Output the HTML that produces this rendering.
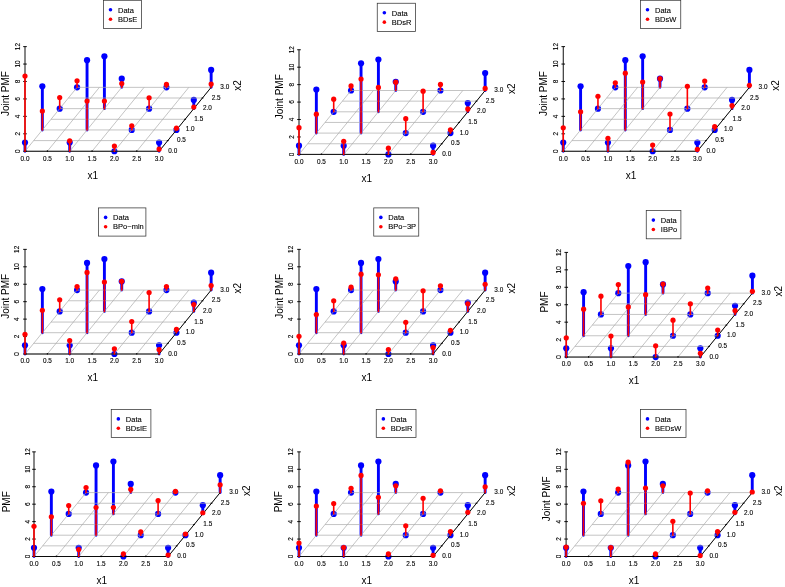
<!DOCTYPE html><html><head><meta charset="utf-8"><title>Joint PMF plots</title><style>html,body{margin:0;padding:0;background:#fff}svg{display:block}text{font-family:"Liberation Sans",sans-serif;fill:#000}.t{font-size:6.4px;stroke:#000;stroke-width:.12px}.l{font-size:10px}.g{font-size:7.5px;stroke:#000;stroke-width:.1px}</style></head><body>
<svg width="785" height="587" viewBox="0 0 785 587">
<rect width="785" height="587" fill="#fff"/>
<g>
<path d="M121.75 87.35L121.75 78.63M211.15 87.35L211.15 69.91M104.4 108.65L104.4 56.33M193.8 108.65L193.8 99.93M42.35 129.95L42.35 86.35M87.05 129.95L87.05 60.19M25 151.25L25 142.53M69.7 151.25L69.7 142.53M159.1 151.25L159.1 142.53" stroke="#00f" stroke-width="2.9" stroke-linecap="round" fill="none"/>
<g fill="#00f"><circle cx="77.05" cy="87.35" r="3.1"/><circle cx="121.75" cy="78.63" r="3.1"/><circle cx="166.45" cy="87.35" r="3.1"/><circle cx="211.15" cy="69.91" r="3.1"/><circle cx="59.7" cy="108.65" r="3.1"/><circle cx="104.4" cy="56.33" r="3.1"/><circle cx="149.1" cy="108.65" r="3.1"/><circle cx="193.8" cy="99.93" r="3.1"/><circle cx="42.35" cy="86.35" r="3.1"/><circle cx="87.05" cy="60.19" r="3.1"/><circle cx="131.75" cy="129.95" r="3.1"/><circle cx="176.45" cy="129.95" r="3.1"/><circle cx="25" cy="142.53" r="3.1"/><circle cx="69.7" cy="142.53" r="3.1"/><circle cx="114.4" cy="151.25" r="3.1"/><circle cx="159.1" cy="142.53" r="3.1"/></g>
<path d="M25 151.25L77.05 87.35M25 151.25L159.1 151.25M47.35 151.25L99.4 87.35M33.67 140.6L167.78 140.6M69.7 151.25L121.75 87.35M42.35 129.95L176.45 129.95M92.05 151.25L144.1 87.35M51.03 119.3L185.13 119.3M114.4 151.25L166.45 87.35M59.7 108.65L193.8 108.65M136.75 151.25L188.8 87.35M68.38 98L202.48 98M159.1 151.25L211.15 87.35M77.05 87.35L211.15 87.35" stroke="#aaaaaa" stroke-width="0.7" fill="none"/>
<path d="M25 46.61L25 151.25L159.1 151.25L211.15 87.35M25 150.25L25 151.85M158.2 151.25L160 151.25M23.2 151.25L26.8 151.25M47.35 150.25L47.35 151.85M166.88 140.6L168.68 140.6M23.2 133.81L26.8 133.81M69.7 150.25L69.7 151.85M175.55 129.95L177.35 129.95M23.2 116.37L26.8 116.37M92.05 150.25L92.05 151.85M184.23 119.3L186.03 119.3M23.2 98.93L26.8 98.93M114.4 150.25L114.4 151.85M192.9 108.65L194.7 108.65M23.2 81.49L26.8 81.49M136.75 150.25L136.75 151.85M201.58 98L203.38 98M23.2 64.05L26.8 64.05M159.1 150.25L159.1 151.85M210.25 87.35L212.05 87.35M23.2 46.61L26.8 46.61" stroke="#000" stroke-width="0.95" fill="none"/>
<path d="M77.05 87.35L77.05 80.81M121.75 87.35L121.75 83.51M166.45 87.35L166.45 84.47M211.15 87.35L211.15 84.04M59.7 108.65L59.7 97.58M104.4 108.65L104.4 101.06M149.1 108.65L149.1 97.75M193.8 108.65L193.8 106.99M42.35 129.95L42.35 111.03M87.05 129.95L87.05 101.09M131.75 129.95L131.75 125.76M176.45 129.95L176.45 128.21M25 151.25L25 76M69.7 151.25L69.7 140.79M114.4 151.25L114.4 146.02M159.1 151.25L159.1 148.98" stroke="#f00" stroke-width="1.6" stroke-linecap="round" fill="none"/>
<g fill="#f00"><circle cx="77.05" cy="80.81" r="2.6"/><circle cx="121.75" cy="83.51" r="2.6"/><circle cx="166.45" cy="84.47" r="2.6"/><circle cx="211.15" cy="84.04" r="2.6"/><circle cx="59.7" cy="97.58" r="2.6"/><circle cx="104.4" cy="101.06" r="2.6"/><circle cx="149.1" cy="97.75" r="2.6"/><circle cx="193.8" cy="106.99" r="2.6"/><circle cx="42.35" cy="111.03" r="2.6"/><circle cx="87.05" cy="101.09" r="2.6"/><circle cx="131.75" cy="125.76" r="2.6"/><circle cx="176.45" cy="128.21" r="2.6"/><circle cx="25" cy="76" r="2.6"/><circle cx="69.7" cy="140.79" r="2.6"/><circle cx="114.4" cy="146.02" r="2.6"/><circle cx="159.1" cy="148.98" r="2.6"/></g>
<text class="t" x="25" y="160.6" text-anchor="middle">0.0</text>
<text class="t" x="168.3" y="152.75">0.0</text>
<text class="t" transform="translate(20 151.25) rotate(-90)" text-anchor="middle">0</text>
<text class="t" x="47.35" y="160.6" text-anchor="middle">0.5</text>
<text class="t" x="176.98" y="142.1">0.5</text>
<text class="t" transform="translate(20 133.81) rotate(-90)" text-anchor="middle">2</text>
<text class="t" x="69.7" y="160.6" text-anchor="middle">1.0</text>
<text class="t" x="185.65" y="131.45">1.0</text>
<text class="t" transform="translate(20 116.37) rotate(-90)" text-anchor="middle">4</text>
<text class="t" x="92.05" y="160.6" text-anchor="middle">1.5</text>
<text class="t" x="194.33" y="120.8">1.5</text>
<text class="t" transform="translate(20 98.93) rotate(-90)" text-anchor="middle">6</text>
<text class="t" x="114.4" y="160.6" text-anchor="middle">2.0</text>
<text class="t" x="203" y="110.15">2.0</text>
<text class="t" transform="translate(20 81.49) rotate(-90)" text-anchor="middle">8</text>
<text class="t" x="136.75" y="160.6" text-anchor="middle">2.5</text>
<text class="t" x="211.68" y="99.5">2.5</text>
<text class="t" transform="translate(20 64.05) rotate(-90)" text-anchor="middle">10</text>
<text class="t" x="159.1" y="160.6" text-anchor="middle">3.0</text>
<text class="t" x="220.35" y="88.85">3.0</text>
<text class="t" transform="translate(20 46.61) rotate(-90)" text-anchor="middle">12</text>
<text class="l" x="92.9" y="178.55" text-anchor="middle">x1</text>
<text class="l" transform="translate(241.1 85.45) rotate(-90)" text-anchor="middle">x2</text>
<text class="l" transform="translate(9.2 93.6) rotate(-90)" text-anchor="middle">Joint PMF</text>
<rect x="103.4" y="0.3" width="38.1" height="28.2" fill="#fff" stroke="#333" stroke-width="0.75"/>
<circle cx="110.5" cy="9.8" r="1.8" fill="#00f"/><circle cx="110.5" cy="19.2" r="1.8" fill="#f00"/>
<text class="g" x="118" y="12.9">Data</text><text class="g" x="118" y="22.1">BDsE</text>
</g>
<g>
<path d="M395.75 90.5L395.75 81.78M485.15 90.5L485.15 73.06M378.4 111.8L378.4 59.48M467.8 111.8L467.8 103.08M316.35 133.1L316.35 89.5M361.05 133.1L361.05 63.34M299 154.4L299 145.68M343.7 154.4L343.7 145.68M433.1 154.4L433.1 145.68" stroke="#00f" stroke-width="2.9" stroke-linecap="round" fill="none"/>
<g fill="#00f"><circle cx="351.05" cy="90.5" r="3.1"/><circle cx="395.75" cy="81.78" r="3.1"/><circle cx="440.45" cy="90.5" r="3.1"/><circle cx="485.15" cy="73.06" r="3.1"/><circle cx="333.7" cy="111.8" r="3.1"/><circle cx="378.4" cy="59.48" r="3.1"/><circle cx="423.1" cy="111.8" r="3.1"/><circle cx="467.8" cy="103.08" r="3.1"/><circle cx="316.35" cy="89.5" r="3.1"/><circle cx="361.05" cy="63.34" r="3.1"/><circle cx="405.75" cy="133.1" r="3.1"/><circle cx="450.45" cy="133.1" r="3.1"/><circle cx="299" cy="145.68" r="3.1"/><circle cx="343.7" cy="145.68" r="3.1"/><circle cx="388.4" cy="154.4" r="3.1"/><circle cx="433.1" cy="145.68" r="3.1"/></g>
<path d="M299 154.4L351.05 90.5M299 154.4L433.1 154.4M321.35 154.4L373.4 90.5M307.68 143.75L441.78 143.75M343.7 154.4L395.75 90.5M316.35 133.1L450.45 133.1M366.05 154.4L418.1 90.5M325.02 122.45L459.12 122.45M388.4 154.4L440.45 90.5M333.7 111.8L467.8 111.8M410.75 154.4L462.8 90.5M342.38 101.15L476.48 101.15M433.1 154.4L485.15 90.5M351.05 90.5L485.15 90.5" stroke="#aaaaaa" stroke-width="0.7" fill="none"/>
<path d="M299 49.76L299 154.4L433.1 154.4L485.15 90.5M299 153.4L299 155M432.2 154.4L434 154.4M297.2 154.4L300.8 154.4M321.35 153.4L321.35 155M440.88 143.75L442.68 143.75M297.2 136.96L300.8 136.96M343.7 153.4L343.7 155M449.55 133.1L451.35 133.1M297.2 119.52L300.8 119.52M366.05 153.4L366.05 155M458.23 122.45L460.02 122.45M297.2 102.08L300.8 102.08M388.4 153.4L388.4 155M466.9 111.8L468.7 111.8M297.2 84.64L300.8 84.64M410.75 153.4L410.75 155M475.58 101.15L477.38 101.15M297.2 67.2L300.8 67.2M433.1 153.4L433.1 155M484.25 90.5L486.05 90.5M297.2 49.76L300.8 49.76" stroke="#000" stroke-width="0.95" fill="none"/>
<path d="M351.05 90.5L351.05 85.88M395.75 90.5L395.75 82.22M440.45 90.5L440.45 84.4M485.15 90.5L485.15 88.41M333.7 111.8L333.7 99.16M378.4 111.8L378.4 87.47M423.1 111.8L423.1 91.22M467.8 111.8L467.8 108.92M316.35 133.1L316.35 114.18M361.05 133.1L361.05 79.12M405.75 133.1L405.75 118.71M450.45 133.1L450.45 129.87M299 154.4L299 127.72M343.7 154.4L343.7 141.23M388.4 154.4L388.4 148.21M433.1 154.4L433.1 152.39" stroke="#f00" stroke-width="1.6" stroke-linecap="round" fill="none"/>
<g fill="#f00"><circle cx="351.05" cy="85.88" r="2.6"/><circle cx="395.75" cy="82.22" r="2.6"/><circle cx="440.45" cy="84.4" r="2.6"/><circle cx="485.15" cy="88.41" r="2.6"/><circle cx="333.7" cy="99.16" r="2.6"/><circle cx="378.4" cy="87.47" r="2.6"/><circle cx="423.1" cy="91.22" r="2.6"/><circle cx="467.8" cy="108.92" r="2.6"/><circle cx="316.35" cy="114.18" r="2.6"/><circle cx="361.05" cy="79.12" r="2.6"/><circle cx="405.75" cy="118.71" r="2.6"/><circle cx="450.45" cy="129.87" r="2.6"/><circle cx="299" cy="127.72" r="2.6"/><circle cx="343.7" cy="141.23" r="2.6"/><circle cx="388.4" cy="148.21" r="2.6"/><circle cx="433.1" cy="152.39" r="2.6"/></g>
<text class="t" x="299" y="163.75" text-anchor="middle">0.0</text>
<text class="t" x="442.3" y="155.9">0.0</text>
<text class="t" transform="translate(294.3 154.4) rotate(-90)" text-anchor="middle">0</text>
<text class="t" x="321.35" y="163.75" text-anchor="middle">0.5</text>
<text class="t" x="450.98" y="145.25">0.5</text>
<text class="t" transform="translate(294.3 136.96) rotate(-90)" text-anchor="middle">2</text>
<text class="t" x="343.7" y="163.75" text-anchor="middle">1.0</text>
<text class="t" x="459.65" y="134.6">1.0</text>
<text class="t" transform="translate(294.3 119.52) rotate(-90)" text-anchor="middle">4</text>
<text class="t" x="366.05" y="163.75" text-anchor="middle">1.5</text>
<text class="t" x="468.32" y="123.95">1.5</text>
<text class="t" transform="translate(294.3 102.08) rotate(-90)" text-anchor="middle">6</text>
<text class="t" x="388.4" y="163.75" text-anchor="middle">2.0</text>
<text class="t" x="477" y="113.3">2.0</text>
<text class="t" transform="translate(294.3 84.64) rotate(-90)" text-anchor="middle">8</text>
<text class="t" x="410.75" y="163.75" text-anchor="middle">2.5</text>
<text class="t" x="485.68" y="102.65">2.5</text>
<text class="t" transform="translate(294.3 67.2) rotate(-90)" text-anchor="middle">10</text>
<text class="t" x="433.1" y="163.75" text-anchor="middle">3.0</text>
<text class="t" x="494.35" y="92">3.0</text>
<text class="t" transform="translate(294.3 49.76) rotate(-90)" text-anchor="middle">12</text>
<text class="l" x="366.9" y="181.7" text-anchor="middle">x1</text>
<text class="l" transform="translate(515.1 88.6) rotate(-90)" text-anchor="middle">x2</text>
<text class="l" transform="translate(282.5 96.75) rotate(-90)" text-anchor="middle">Joint PMF</text>
<rect x="377.25" y="3.25" width="38.25" height="28.2" fill="#fff" stroke="#333" stroke-width="0.75"/>
<circle cx="384.35" cy="12.75" r="1.8" fill="#00f"/><circle cx="384.35" cy="22.15" r="1.8" fill="#f00"/>
<text class="g" x="391.85" y="15.85">Data</text><text class="g" x="391.85" y="25.05">BDsR</text>
</g>
<g>
<path d="M660 87.35L660 78.63M749.4 87.35L749.4 69.91M642.65 108.65L642.65 56.33M732.05 108.65L732.05 99.93M580.6 129.95L580.6 86.35M625.3 129.95L625.3 60.19M563.25 151.25L563.25 142.53M607.95 151.25L607.95 142.53M697.35 151.25L697.35 142.53" stroke="#00f" stroke-width="2.9" stroke-linecap="round" fill="none"/>
<g fill="#00f"><circle cx="615.3" cy="87.35" r="3.1"/><circle cx="660" cy="78.63" r="3.1"/><circle cx="704.7" cy="87.35" r="3.1"/><circle cx="749.4" cy="69.91" r="3.1"/><circle cx="597.95" cy="108.65" r="3.1"/><circle cx="642.65" cy="56.33" r="3.1"/><circle cx="687.35" cy="108.65" r="3.1"/><circle cx="732.05" cy="99.93" r="3.1"/><circle cx="580.6" cy="86.35" r="3.1"/><circle cx="625.3" cy="60.19" r="3.1"/><circle cx="670" cy="129.95" r="3.1"/><circle cx="714.7" cy="129.95" r="3.1"/><circle cx="563.25" cy="142.53" r="3.1"/><circle cx="607.95" cy="142.53" r="3.1"/><circle cx="652.65" cy="151.25" r="3.1"/><circle cx="697.35" cy="142.53" r="3.1"/></g>
<path d="M563.25 151.25L615.3 87.35M563.25 151.25L697.35 151.25M585.6 151.25L637.65 87.35M571.92 140.6L706.02 140.6M607.95 151.25L660 87.35M580.6 129.95L714.7 129.95M630.3 151.25L682.35 87.35M589.27 119.3L723.38 119.3M652.65 151.25L704.7 87.35M597.95 108.65L732.05 108.65M675 151.25L727.05 87.35M606.62 98L740.73 98M697.35 151.25L749.4 87.35M615.3 87.35L749.4 87.35" stroke="#aaaaaa" stroke-width="0.7" fill="none"/>
<path d="M563.25 46.61L563.25 151.25L697.35 151.25L749.4 87.35M563.25 150.25L563.25 151.85M696.45 151.25L698.25 151.25M561.45 151.25L565.05 151.25M585.6 150.25L585.6 151.85M705.12 140.6L706.92 140.6M561.45 133.81L565.05 133.81M607.95 150.25L607.95 151.85M713.8 129.95L715.6 129.95M561.45 116.37L565.05 116.37M630.3 150.25L630.3 151.85M722.48 119.3L724.27 119.3M561.45 98.93L565.05 98.93M652.65 150.25L652.65 151.85M731.15 108.65L732.95 108.65M561.45 81.49L565.05 81.49M675 150.25L675 151.85M739.83 98L741.62 98M561.45 64.05L565.05 64.05M697.35 150.25L697.35 151.85M748.5 87.35L750.3 87.35M561.45 46.61L565.05 46.61" stroke="#000" stroke-width="0.95" fill="none"/>
<path d="M615.3 87.35L615.3 82.73M660 87.35L660 78.54M704.7 87.35L704.7 80.98M749.4 87.35L749.4 85.26M597.95 108.65L597.95 96.27M642.65 108.65L642.65 82.05M687.35 108.65L687.35 86.33M732.05 108.65L732.05 105.51M580.6 129.95L580.6 111.81M625.3 129.95L625.3 73.18M670 129.95L670 114.08M714.7 129.95L714.7 126.72M563.25 151.25L563.25 127.79M607.95 151.25L607.95 138.26M652.65 151.25L652.65 145.06M697.35 151.25L697.35 149.24" stroke="#f00" stroke-width="1.6" stroke-linecap="round" fill="none"/>
<g fill="#f00"><circle cx="615.3" cy="82.73" r="2.6"/><circle cx="660" cy="78.54" r="2.6"/><circle cx="704.7" cy="80.98" r="2.6"/><circle cx="749.4" cy="85.26" r="2.6"/><circle cx="597.95" cy="96.27" r="2.6"/><circle cx="642.65" cy="82.05" r="2.6"/><circle cx="687.35" cy="86.33" r="2.6"/><circle cx="732.05" cy="105.51" r="2.6"/><circle cx="580.6" cy="111.81" r="2.6"/><circle cx="625.3" cy="73.18" r="2.6"/><circle cx="670" cy="114.08" r="2.6"/><circle cx="714.7" cy="126.72" r="2.6"/><circle cx="563.25" cy="127.79" r="2.6"/><circle cx="607.95" cy="138.26" r="2.6"/><circle cx="652.65" cy="145.06" r="2.6"/><circle cx="697.35" cy="149.24" r="2.6"/></g>
<text class="t" x="563.25" y="160.6" text-anchor="middle">0.0</text>
<text class="t" x="706.55" y="152.75">0.0</text>
<text class="t" transform="translate(557.65 151.25) rotate(-90)" text-anchor="middle">0</text>
<text class="t" x="585.6" y="160.6" text-anchor="middle">0.5</text>
<text class="t" x="715.23" y="142.1">0.5</text>
<text class="t" transform="translate(557.65 133.81) rotate(-90)" text-anchor="middle">2</text>
<text class="t" x="607.95" y="160.6" text-anchor="middle">1.0</text>
<text class="t" x="723.9" y="131.45">1.0</text>
<text class="t" transform="translate(557.65 116.37) rotate(-90)" text-anchor="middle">4</text>
<text class="t" x="630.3" y="160.6" text-anchor="middle">1.5</text>
<text class="t" x="732.58" y="120.8">1.5</text>
<text class="t" transform="translate(557.65 98.93) rotate(-90)" text-anchor="middle">6</text>
<text class="t" x="652.65" y="160.6" text-anchor="middle">2.0</text>
<text class="t" x="741.25" y="110.15">2.0</text>
<text class="t" transform="translate(557.65 81.49) rotate(-90)" text-anchor="middle">8</text>
<text class="t" x="675" y="160.6" text-anchor="middle">2.5</text>
<text class="t" x="749.93" y="99.5">2.5</text>
<text class="t" transform="translate(557.65 64.05) rotate(-90)" text-anchor="middle">10</text>
<text class="t" x="697.35" y="160.6" text-anchor="middle">3.0</text>
<text class="t" x="758.6" y="88.85">3.0</text>
<text class="t" transform="translate(557.65 46.61) rotate(-90)" text-anchor="middle">12</text>
<text class="l" x="631.15" y="178.55" text-anchor="middle">x1</text>
<text class="l" transform="translate(779.35 85.45) rotate(-90)" text-anchor="middle">x2</text>
<text class="l" transform="translate(547.45 93.6) rotate(-90)" text-anchor="middle">Joint PMF</text>
<rect x="640.4" y="0.3" width="40.35" height="28.2" fill="#fff" stroke="#333" stroke-width="0.75"/>
<circle cx="647.5" cy="9.8" r="1.8" fill="#00f"/><circle cx="647.5" cy="19.2" r="1.8" fill="#f00"/>
<text class="g" x="655" y="12.9">Data</text><text class="g" x="655" y="22.1">BDsW</text>
</g>
<g>
<path d="M121.75 290.1L121.75 281.38M211.15 290.1L211.15 272.66M104.4 311.4L104.4 259.08M193.8 311.4L193.8 302.68M42.35 332.7L42.35 289.1M87.05 332.7L87.05 262.94M25 354L25 345.28M69.7 354L69.7 345.28M159.1 354L159.1 345.28" stroke="#00f" stroke-width="2.9" stroke-linecap="round" fill="none"/>
<g fill="#00f"><circle cx="77.05" cy="290.1" r="3.1"/><circle cx="121.75" cy="281.38" r="3.1"/><circle cx="166.45" cy="290.1" r="3.1"/><circle cx="211.15" cy="272.66" r="3.1"/><circle cx="59.7" cy="311.4" r="3.1"/><circle cx="104.4" cy="259.08" r="3.1"/><circle cx="149.1" cy="311.4" r="3.1"/><circle cx="193.8" cy="302.68" r="3.1"/><circle cx="42.35" cy="289.1" r="3.1"/><circle cx="87.05" cy="262.94" r="3.1"/><circle cx="131.75" cy="332.7" r="3.1"/><circle cx="176.45" cy="332.7" r="3.1"/><circle cx="25" cy="345.28" r="3.1"/><circle cx="69.7" cy="345.28" r="3.1"/><circle cx="114.4" cy="354" r="3.1"/><circle cx="159.1" cy="345.28" r="3.1"/></g>
<path d="M25 354L77.05 290.1M25 354L159.1 354M47.35 354L99.4 290.1M33.67 343.35L167.78 343.35M69.7 354L121.75 290.1M42.35 332.7L176.45 332.7M92.05 354L144.1 290.1M51.03 322.05L185.13 322.05M114.4 354L166.45 290.1M59.7 311.4L193.8 311.4M136.75 354L188.8 290.1M68.38 300.75L202.48 300.75M159.1 354L211.15 290.1M77.05 290.1L211.15 290.1" stroke="#aaaaaa" stroke-width="0.7" fill="none"/>
<path d="M25 249.36L25 354L159.1 354L211.15 290.1M25 353L25 354.6M158.2 354L160 354M23.2 354L26.8 354M47.35 353L47.35 354.6M166.88 343.35L168.68 343.35M23.2 336.56L26.8 336.56M69.7 353L69.7 354.6M175.55 332.7L177.35 332.7M23.2 319.12L26.8 319.12M92.05 353L92.05 354.6M184.23 322.05L186.03 322.05M23.2 301.68L26.8 301.68M114.4 353L114.4 354.6M192.9 311.4L194.7 311.4M23.2 284.24L26.8 284.24M136.75 353L136.75 354.6M201.58 300.75L203.38 300.75M23.2 266.8L26.8 266.8M159.1 353L159.1 354.6M210.25 290.1L212.05 290.1M23.2 249.36L26.8 249.36" stroke="#000" stroke-width="0.95" fill="none"/>
<path d="M77.05 290.1L77.05 286.52M121.75 290.1L121.75 281.29M166.45 290.1L166.45 286.52M211.15 290.1L211.15 285.48M59.7 311.4L59.7 299.8M104.4 311.4L104.4 282.1M149.1 311.4L149.1 292.56M193.8 311.4L193.8 304.51M42.35 332.7L42.35 310.29M87.05 332.7L87.05 272.44M131.75 332.7L131.75 321.54M176.45 332.7L176.45 329.47M25 354L25 334.29M69.7 354L69.7 340.57M114.4 354L114.4 348.77M159.1 354L159.1 349.55" stroke="#f00" stroke-width="1.6" stroke-linecap="round" fill="none"/>
<g fill="#f00"><circle cx="77.05" cy="286.52" r="2.6"/><circle cx="121.75" cy="281.29" r="2.6"/><circle cx="166.45" cy="286.52" r="2.6"/><circle cx="211.15" cy="285.48" r="2.6"/><circle cx="59.7" cy="299.8" r="2.6"/><circle cx="104.4" cy="282.1" r="2.6"/><circle cx="149.1" cy="292.56" r="2.6"/><circle cx="193.8" cy="304.51" r="2.6"/><circle cx="42.35" cy="310.29" r="2.6"/><circle cx="87.05" cy="272.44" r="2.6"/><circle cx="131.75" cy="321.54" r="2.6"/><circle cx="176.45" cy="329.47" r="2.6"/><circle cx="25" cy="334.29" r="2.6"/><circle cx="69.7" cy="340.57" r="2.6"/><circle cx="114.4" cy="348.77" r="2.6"/><circle cx="159.1" cy="349.55" r="2.6"/></g>
<text class="t" x="25" y="363.35" text-anchor="middle">0.0</text>
<text class="t" x="168.3" y="355.5">0.0</text>
<text class="t" transform="translate(19.4 354) rotate(-90)" text-anchor="middle">0</text>
<text class="t" x="47.35" y="363.35" text-anchor="middle">0.5</text>
<text class="t" x="176.98" y="344.85">0.5</text>
<text class="t" transform="translate(19.4 336.56) rotate(-90)" text-anchor="middle">2</text>
<text class="t" x="69.7" y="363.35" text-anchor="middle">1.0</text>
<text class="t" x="185.65" y="334.2">1.0</text>
<text class="t" transform="translate(19.4 319.12) rotate(-90)" text-anchor="middle">4</text>
<text class="t" x="92.05" y="363.35" text-anchor="middle">1.5</text>
<text class="t" x="194.33" y="323.55">1.5</text>
<text class="t" transform="translate(19.4 301.68) rotate(-90)" text-anchor="middle">6</text>
<text class="t" x="114.4" y="363.35" text-anchor="middle">2.0</text>
<text class="t" x="203" y="312.9">2.0</text>
<text class="t" transform="translate(19.4 284.24) rotate(-90)" text-anchor="middle">8</text>
<text class="t" x="136.75" y="363.35" text-anchor="middle">2.5</text>
<text class="t" x="211.68" y="302.25">2.5</text>
<text class="t" transform="translate(19.4 266.8) rotate(-90)" text-anchor="middle">10</text>
<text class="t" x="159.1" y="363.35" text-anchor="middle">3.0</text>
<text class="t" x="220.35" y="291.6">3.0</text>
<text class="t" transform="translate(19.4 249.36) rotate(-90)" text-anchor="middle">12</text>
<text class="l" x="92.9" y="381.3" text-anchor="middle">x1</text>
<text class="l" transform="translate(241.1 288.2) rotate(-90)" text-anchor="middle">x2</text>
<text class="l" transform="translate(9.2 296.35) rotate(-90)" text-anchor="middle">Joint PMF</text>
<rect x="98.5" y="207.9" width="47.4" height="28.2" fill="#fff" stroke="#333" stroke-width="0.75"/>
<circle cx="105.6" cy="217.4" r="1.8" fill="#00f"/><circle cx="105.6" cy="226.8" r="1.8" fill="#f00"/>
<text class="g" x="113.1" y="219.8">Data</text><text class="g" x="113.1" y="229.1">BPo−min</text>
</g>
<g>
<path d="M395.75 290.1L395.75 281.38M485.15 290.1L485.15 272.66M378.4 311.4L378.4 259.08M467.8 311.4L467.8 302.68M316.35 332.7L316.35 289.1M361.05 332.7L361.05 262.94M299 354L299 345.28M343.7 354L343.7 345.28M433.1 354L433.1 345.28" stroke="#00f" stroke-width="2.9" stroke-linecap="round" fill="none"/>
<g fill="#00f"><circle cx="351.05" cy="290.1" r="3.1"/><circle cx="395.75" cy="281.38" r="3.1"/><circle cx="440.45" cy="290.1" r="3.1"/><circle cx="485.15" cy="272.66" r="3.1"/><circle cx="333.7" cy="311.4" r="3.1"/><circle cx="378.4" cy="259.08" r="3.1"/><circle cx="423.1" cy="311.4" r="3.1"/><circle cx="467.8" cy="302.68" r="3.1"/><circle cx="316.35" cy="289.1" r="3.1"/><circle cx="361.05" cy="262.94" r="3.1"/><circle cx="405.75" cy="332.7" r="3.1"/><circle cx="450.45" cy="332.7" r="3.1"/><circle cx="299" cy="345.28" r="3.1"/><circle cx="343.7" cy="345.28" r="3.1"/><circle cx="388.4" cy="354" r="3.1"/><circle cx="433.1" cy="345.28" r="3.1"/></g>
<path d="M299 354L351.05 290.1M299 354L433.1 354M321.35 354L373.4 290.1M307.68 343.35L441.78 343.35M343.7 354L395.75 290.1M316.35 332.7L450.45 332.7M366.05 354L418.1 290.1M325.02 322.05L459.12 322.05M388.4 354L440.45 290.1M333.7 311.4L467.8 311.4M410.75 354L462.8 290.1M342.38 300.75L476.48 300.75M433.1 354L485.15 290.1M351.05 290.1L485.15 290.1" stroke="#aaaaaa" stroke-width="0.7" fill="none"/>
<path d="M299 249.36L299 354L433.1 354L485.15 290.1M299 353L299 354.6M432.2 354L434 354M297.2 354L300.8 354M321.35 353L321.35 354.6M440.88 343.35L442.68 343.35M297.2 336.56L300.8 336.56M343.7 353L343.7 354.6M449.55 332.7L451.35 332.7M297.2 319.12L300.8 319.12M366.05 353L366.05 354.6M458.23 322.05L460.02 322.05M297.2 301.68L300.8 301.68M388.4 353L388.4 354.6M466.9 311.4L468.7 311.4M297.2 284.24L300.8 284.24M410.75 353L410.75 354.6M475.58 300.75L477.38 300.75M297.2 266.8L300.8 266.8M433.1 353L433.1 354.6M484.25 290.1L486.05 290.1M297.2 249.36L300.8 249.36" stroke="#000" stroke-width="0.95" fill="none"/>
<path d="M351.05 290.1L351.05 287.22M395.75 290.1L395.75 278.76M440.45 290.1L440.45 285.74M485.15 290.1L485.15 284.26M333.7 311.4L333.7 300.76M378.4 311.4L378.4 274.86M423.1 311.4L423.1 290.82M467.8 311.4L467.8 303.81M316.35 332.7L316.35 314.56M361.05 332.7L361.05 274.19M405.75 332.7L405.75 322.32M450.45 332.7L450.45 330.26M299 354L299 336.3M343.7 354L343.7 343.01M388.4 354L388.4 349.55M433.1 354L433.1 347.55" stroke="#f00" stroke-width="1.6" stroke-linecap="round" fill="none"/>
<g fill="#f00"><circle cx="351.05" cy="287.22" r="2.6"/><circle cx="395.75" cy="278.76" r="2.6"/><circle cx="440.45" cy="285.74" r="2.6"/><circle cx="485.15" cy="284.26" r="2.6"/><circle cx="333.7" cy="300.76" r="2.6"/><circle cx="378.4" cy="274.86" r="2.6"/><circle cx="423.1" cy="290.82" r="2.6"/><circle cx="467.8" cy="303.81" r="2.6"/><circle cx="316.35" cy="314.56" r="2.6"/><circle cx="361.05" cy="274.19" r="2.6"/><circle cx="405.75" cy="322.32" r="2.6"/><circle cx="450.45" cy="330.26" r="2.6"/><circle cx="299" cy="336.3" r="2.6"/><circle cx="343.7" cy="343.01" r="2.6"/><circle cx="388.4" cy="349.55" r="2.6"/><circle cx="433.1" cy="347.55" r="2.6"/></g>
<text class="t" x="299" y="363.35" text-anchor="middle">0.0</text>
<text class="t" x="442.3" y="355.5">0.0</text>
<text class="t" transform="translate(293.4 354) rotate(-90)" text-anchor="middle">0</text>
<text class="t" x="321.35" y="363.35" text-anchor="middle">0.5</text>
<text class="t" x="450.98" y="344.85">0.5</text>
<text class="t" transform="translate(293.4 336.56) rotate(-90)" text-anchor="middle">2</text>
<text class="t" x="343.7" y="363.35" text-anchor="middle">1.0</text>
<text class="t" x="459.65" y="334.2">1.0</text>
<text class="t" transform="translate(293.4 319.12) rotate(-90)" text-anchor="middle">4</text>
<text class="t" x="366.05" y="363.35" text-anchor="middle">1.5</text>
<text class="t" x="468.32" y="323.55">1.5</text>
<text class="t" transform="translate(293.4 301.68) rotate(-90)" text-anchor="middle">6</text>
<text class="t" x="388.4" y="363.35" text-anchor="middle">2.0</text>
<text class="t" x="477" y="312.9">2.0</text>
<text class="t" transform="translate(293.4 284.24) rotate(-90)" text-anchor="middle">8</text>
<text class="t" x="410.75" y="363.35" text-anchor="middle">2.5</text>
<text class="t" x="485.68" y="302.25">2.5</text>
<text class="t" transform="translate(293.4 266.8) rotate(-90)" text-anchor="middle">10</text>
<text class="t" x="433.1" y="363.35" text-anchor="middle">3.0</text>
<text class="t" x="494.35" y="291.6">3.0</text>
<text class="t" transform="translate(293.4 249.36) rotate(-90)" text-anchor="middle">12</text>
<text class="l" x="366.9" y="381.3" text-anchor="middle">x1</text>
<text class="l" transform="translate(515.1 288.2) rotate(-90)" text-anchor="middle">x2</text>
<text class="l" transform="translate(283.2 296.35) rotate(-90)" text-anchor="middle">Joint PMF</text>
<rect x="373.75" y="207.9" width="45" height="28.2" fill="#fff" stroke="#333" stroke-width="0.75"/>
<circle cx="380.85" cy="217.4" r="1.8" fill="#00f"/><circle cx="380.85" cy="226.8" r="1.8" fill="#f00"/>
<text class="g" x="388.35" y="219.8">Data</text><text class="g" x="388.35" y="229.1">BPo−3P</text>
</g>
<g>
<path d="M663 293.15L663 284.43M752.4 293.15L752.4 275.71M645.65 314.45L645.65 262.13M735.05 314.45L735.05 305.73M583.6 335.75L583.6 292.15M628.3 335.75L628.3 265.99M566.25 357.05L566.25 348.33M610.95 357.05L610.95 348.33M700.35 357.05L700.35 348.33" stroke="#00f" stroke-width="2.9" stroke-linecap="round" fill="none"/>
<g fill="#00f"><circle cx="618.3" cy="293.15" r="3.1"/><circle cx="663" cy="284.43" r="3.1"/><circle cx="707.7" cy="293.15" r="3.1"/><circle cx="752.4" cy="275.71" r="3.1"/><circle cx="600.95" cy="314.45" r="3.1"/><circle cx="645.65" cy="262.13" r="3.1"/><circle cx="690.35" cy="314.45" r="3.1"/><circle cx="735.05" cy="305.73" r="3.1"/><circle cx="583.6" cy="292.15" r="3.1"/><circle cx="628.3" cy="265.99" r="3.1"/><circle cx="673" cy="335.75" r="3.1"/><circle cx="717.7" cy="335.75" r="3.1"/><circle cx="566.25" cy="348.33" r="3.1"/><circle cx="610.95" cy="348.33" r="3.1"/><circle cx="655.65" cy="357.05" r="3.1"/><circle cx="700.35" cy="348.33" r="3.1"/></g>
<path d="M566.25 357.05L618.3 293.15M566.25 357.05L700.35 357.05M588.6 357.05L640.65 293.15M574.92 346.4L709.02 346.4M610.95 357.05L663 293.15M583.6 335.75L717.7 335.75M633.3 357.05L685.35 293.15M592.27 325.1L726.38 325.1M655.65 357.05L707.7 293.15M600.95 314.45L735.05 314.45M678 357.05L730.05 293.15M609.62 303.8L743.73 303.8M700.35 357.05L752.4 293.15M618.3 293.15L752.4 293.15" stroke="#aaaaaa" stroke-width="0.7" fill="none"/>
<path d="M566.25 252.41L566.25 357.05L700.35 357.05L752.4 293.15M566.25 356.05L566.25 357.65M699.45 357.05L701.25 357.05M564.45 357.05L568.05 357.05M588.6 356.05L588.6 357.65M708.12 346.4L709.92 346.4M564.45 339.61L568.05 339.61M610.95 356.05L610.95 357.65M716.8 335.75L718.6 335.75M564.45 322.17L568.05 322.17M633.3 356.05L633.3 357.65M725.48 325.1L727.27 325.1M564.45 304.73L568.05 304.73M655.65 356.05L655.65 357.65M734.15 314.45L735.95 314.45M564.45 287.29L568.05 287.29M678 356.05L678 357.65M742.83 303.8L744.62 303.8M564.45 269.85L568.05 269.85M700.35 356.05L700.35 357.65M751.5 293.15L753.3 293.15M564.45 252.41L568.05 252.41" stroke="#000" stroke-width="0.95" fill="none"/>
<path d="M618.3 293.15L618.3 284.6M663 293.15L663 284.08M707.7 293.15L707.7 288.09M752.4 293.15L752.4 291.32M600.95 314.45L600.95 296.14M645.65 314.45L645.65 294.66M690.35 314.45L690.35 303.81M735.05 314.45L735.05 310.53M583.6 335.75L583.6 309.15M628.3 335.75L628.3 306.89M673 335.75L673 320.14M717.7 335.75L717.7 330.08M566.25 357.05L566.25 337.87M610.95 357.05L610.95 336.12M655.65 357.05L655.65 345.8M700.35 357.05L700.35 353.3" stroke="#f00" stroke-width="1.6" stroke-linecap="round" fill="none"/>
<g fill="#f00"><circle cx="618.3" cy="284.6" r="2.6"/><circle cx="663" cy="284.08" r="2.6"/><circle cx="707.7" cy="288.09" r="2.6"/><circle cx="752.4" cy="291.32" r="2.6"/><circle cx="600.95" cy="296.14" r="2.6"/><circle cx="645.65" cy="294.66" r="2.6"/><circle cx="690.35" cy="303.81" r="2.6"/><circle cx="735.05" cy="310.53" r="2.6"/><circle cx="583.6" cy="309.15" r="2.6"/><circle cx="628.3" cy="306.89" r="2.6"/><circle cx="673" cy="320.14" r="2.6"/><circle cx="717.7" cy="330.08" r="2.6"/><circle cx="566.25" cy="337.87" r="2.6"/><circle cx="610.95" cy="336.12" r="2.6"/><circle cx="655.65" cy="345.8" r="2.6"/><circle cx="700.35" cy="353.3" r="2.6"/></g>
<text class="t" x="566.25" y="366.4" text-anchor="middle">0.0</text>
<text class="t" x="709.55" y="358.55">0.0</text>
<text class="t" transform="translate(560.65 357.05) rotate(-90)" text-anchor="middle">0</text>
<text class="t" x="588.6" y="366.4" text-anchor="middle">0.5</text>
<text class="t" x="718.23" y="347.9">0.5</text>
<text class="t" transform="translate(560.65 339.61) rotate(-90)" text-anchor="middle">2</text>
<text class="t" x="610.95" y="366.4" text-anchor="middle">1.0</text>
<text class="t" x="726.9" y="337.25">1.0</text>
<text class="t" transform="translate(560.65 322.17) rotate(-90)" text-anchor="middle">4</text>
<text class="t" x="633.3" y="366.4" text-anchor="middle">1.5</text>
<text class="t" x="735.58" y="326.6">1.5</text>
<text class="t" transform="translate(560.65 304.73) rotate(-90)" text-anchor="middle">6</text>
<text class="t" x="655.65" y="366.4" text-anchor="middle">2.0</text>
<text class="t" x="744.25" y="315.95">2.0</text>
<text class="t" transform="translate(560.65 287.29) rotate(-90)" text-anchor="middle">8</text>
<text class="t" x="678" y="366.4" text-anchor="middle">2.5</text>
<text class="t" x="752.93" y="305.3">2.5</text>
<text class="t" transform="translate(560.65 269.85) rotate(-90)" text-anchor="middle">10</text>
<text class="t" x="700.35" y="366.4" text-anchor="middle">3.0</text>
<text class="t" x="761.6" y="294.65">3.0</text>
<text class="t" transform="translate(560.65 252.41) rotate(-90)" text-anchor="middle">12</text>
<text class="l" x="634.15" y="384.35" text-anchor="middle">x1</text>
<text class="l" transform="translate(782.35 291.25) rotate(-90)" text-anchor="middle">x2</text>
<text class="l" transform="translate(547.65 302.05) rotate(-90)" text-anchor="middle">PMF</text>
<rect x="646.25" y="210.6" width="34.65" height="28.2" fill="#fff" stroke="#333" stroke-width="0.75"/>
<circle cx="653.35" cy="220.1" r="1.8" fill="#00f"/><circle cx="653.35" cy="229.5" r="1.8" fill="#f00"/>
<text class="g" x="660.85" y="222.9">Data</text><text class="g" x="660.85" y="232.2">IBPo</text>
</g>
<g>
<path d="M130.75 492.6L130.75 483.88M220.15 492.6L220.15 475.16M113.4 513.9L113.4 461.58M202.8 513.9L202.8 505.18M51.35 535.2L51.35 491.6M96.05 535.2L96.05 465.44M34 556.5L34 547.78M78.7 556.5L78.7 547.78M168.1 556.5L168.1 547.78" stroke="#00f" stroke-width="2.9" stroke-linecap="round" fill="none"/>
<g fill="#00f"><circle cx="86.05" cy="492.6" r="3.1"/><circle cx="130.75" cy="483.88" r="3.1"/><circle cx="175.45" cy="492.6" r="3.1"/><circle cx="220.15" cy="475.16" r="3.1"/><circle cx="68.7" cy="513.9" r="3.1"/><circle cx="113.4" cy="461.58" r="3.1"/><circle cx="158.1" cy="513.9" r="3.1"/><circle cx="202.8" cy="505.18" r="3.1"/><circle cx="51.35" cy="491.6" r="3.1"/><circle cx="96.05" cy="465.44" r="3.1"/><circle cx="140.75" cy="535.2" r="3.1"/><circle cx="185.45" cy="535.2" r="3.1"/><circle cx="34" cy="547.78" r="3.1"/><circle cx="78.7" cy="547.78" r="3.1"/><circle cx="123.4" cy="556.5" r="3.1"/><circle cx="168.1" cy="547.78" r="3.1"/></g>
<path d="M34 556.5L86.05 492.6M34 556.5L168.1 556.5M56.35 556.5L108.4 492.6M42.67 545.85L176.78 545.85M78.7 556.5L130.75 492.6M51.35 535.2L185.45 535.2M101.05 556.5L153.1 492.6M60.03 524.55L194.13 524.55M123.4 556.5L175.45 492.6M68.7 513.9L202.8 513.9M145.75 556.5L197.8 492.6M77.38 503.25L211.48 503.25M168.1 556.5L220.15 492.6M86.05 492.6L220.15 492.6" stroke="#aaaaaa" stroke-width="0.7" fill="none"/>
<path d="M34 451.86L34 556.5L168.1 556.5L220.15 492.6M34 555.5L34 557.1M167.2 556.5L169 556.5M32.2 556.5L35.8 556.5M56.35 555.5L56.35 557.1M175.88 545.85L177.68 545.85M32.2 539.06L35.8 539.06M78.7 555.5L78.7 557.1M184.55 535.2L186.35 535.2M32.2 521.62L35.8 521.62M101.05 555.5L101.05 557.1M193.23 524.55L195.03 524.55M32.2 504.18L35.8 504.18M123.4 555.5L123.4 557.1M201.9 513.9L203.7 513.9M32.2 486.74L35.8 486.74M145.75 555.5L145.75 557.1M210.58 503.25L212.38 503.25M32.2 469.3L35.8 469.3M168.1 555.5L168.1 557.1M219.25 492.6L221.05 492.6M32.2 451.86L35.8 451.86" stroke="#000" stroke-width="0.95" fill="none"/>
<path d="M86.05 492.6L86.05 487.54M130.75 492.6L130.75 489.29M175.45 492.6L175.45 491.47M220.15 492.6L220.15 484.75M68.7 513.9L68.7 505.53M113.4 513.9L113.4 507.53M158.1 513.9L158.1 500.56M202.8 513.9L202.8 512.77M51.35 535.2L51.35 516.8M96.05 535.2L96.05 507.56M140.75 535.2L140.75 531.8M185.45 535.2L185.45 533.98M34 556.5L34 526.33M78.7 556.5L78.7 549.52M123.4 556.5L123.4 553.8M168.1 556.5L168.1 555.02" stroke="#f00" stroke-width="1.6" stroke-linecap="round" fill="none"/>
<g fill="#f00"><circle cx="86.05" cy="487.54" r="2.6"/><circle cx="130.75" cy="489.29" r="2.6"/><circle cx="175.45" cy="491.47" r="2.6"/><circle cx="220.15" cy="484.75" r="2.6"/><circle cx="68.7" cy="505.53" r="2.6"/><circle cx="113.4" cy="507.53" r="2.6"/><circle cx="158.1" cy="500.56" r="2.6"/><circle cx="202.8" cy="512.77" r="2.6"/><circle cx="51.35" cy="516.8" r="2.6"/><circle cx="96.05" cy="507.56" r="2.6"/><circle cx="140.75" cy="531.8" r="2.6"/><circle cx="185.45" cy="533.98" r="2.6"/><circle cx="34" cy="526.33" r="2.6"/><circle cx="78.7" cy="549.52" r="2.6"/><circle cx="123.4" cy="553.8" r="2.6"/><circle cx="168.1" cy="555.02" r="2.6"/></g>
<text class="t" x="34" y="565.85" text-anchor="middle">0.0</text>
<text class="t" x="177.3" y="558">0.0</text>
<text class="t" transform="translate(29.6 556.5) rotate(-90)" text-anchor="middle">0</text>
<text class="t" x="56.35" y="565.85" text-anchor="middle">0.5</text>
<text class="t" x="185.98" y="547.35">0.5</text>
<text class="t" transform="translate(29.6 539.06) rotate(-90)" text-anchor="middle">2</text>
<text class="t" x="78.7" y="565.85" text-anchor="middle">1.0</text>
<text class="t" x="194.65" y="536.7">1.0</text>
<text class="t" transform="translate(29.6 521.62) rotate(-90)" text-anchor="middle">4</text>
<text class="t" x="101.05" y="565.85" text-anchor="middle">1.5</text>
<text class="t" x="203.33" y="526.05">1.5</text>
<text class="t" transform="translate(29.6 504.18) rotate(-90)" text-anchor="middle">6</text>
<text class="t" x="123.4" y="565.85" text-anchor="middle">2.0</text>
<text class="t" x="212" y="515.4">2.0</text>
<text class="t" transform="translate(29.6 486.74) rotate(-90)" text-anchor="middle">8</text>
<text class="t" x="145.75" y="565.85" text-anchor="middle">2.5</text>
<text class="t" x="220.68" y="504.75">2.5</text>
<text class="t" transform="translate(29.6 469.3) rotate(-90)" text-anchor="middle">10</text>
<text class="t" x="168.1" y="565.85" text-anchor="middle">3.0</text>
<text class="t" x="229.35" y="494.1">3.0</text>
<text class="t" transform="translate(29.6 451.86) rotate(-90)" text-anchor="middle">12</text>
<text class="l" x="101.9" y="583.8" text-anchor="middle">x1</text>
<text class="l" transform="translate(250.1 490.7) rotate(-90)" text-anchor="middle">x2</text>
<text class="l" transform="translate(9.7 501.8) rotate(-90)" text-anchor="middle">PMF</text>
<rect x="111.25" y="409.4" width="39.65" height="28.2" fill="#fff" stroke="#333" stroke-width="0.75"/>
<circle cx="118.35" cy="418.9" r="1.8" fill="#00f"/><circle cx="118.35" cy="428.3" r="1.8" fill="#f00"/>
<text class="g" x="125.85" y="421.7">Data</text><text class="g" x="125.85" y="431">BDsIE</text>
</g>
<g>
<path d="M395.75 492.6L395.75 483.88M485.15 492.6L485.15 475.16M378.4 513.9L378.4 461.58M467.8 513.9L467.8 505.18M316.35 535.2L316.35 491.6M361.05 535.2L361.05 465.44M299 556.5L299 547.78M343.7 556.5L343.7 547.78M433.1 556.5L433.1 547.78" stroke="#00f" stroke-width="2.9" stroke-linecap="round" fill="none"/>
<g fill="#00f"><circle cx="351.05" cy="492.6" r="3.1"/><circle cx="395.75" cy="483.88" r="3.1"/><circle cx="440.45" cy="492.6" r="3.1"/><circle cx="485.15" cy="475.16" r="3.1"/><circle cx="333.7" cy="513.9" r="3.1"/><circle cx="378.4" cy="461.58" r="3.1"/><circle cx="423.1" cy="513.9" r="3.1"/><circle cx="467.8" cy="505.18" r="3.1"/><circle cx="316.35" cy="491.6" r="3.1"/><circle cx="361.05" cy="465.44" r="3.1"/><circle cx="405.75" cy="535.2" r="3.1"/><circle cx="450.45" cy="535.2" r="3.1"/><circle cx="299" cy="547.78" r="3.1"/><circle cx="343.7" cy="547.78" r="3.1"/><circle cx="388.4" cy="556.5" r="3.1"/><circle cx="433.1" cy="547.78" r="3.1"/></g>
<path d="M299 556.5L351.05 492.6M299 556.5L433.1 556.5M321.35 556.5L373.4 492.6M307.68 545.85L441.78 545.85M343.7 556.5L395.75 492.6M316.35 535.2L450.45 535.2M366.05 556.5L418.1 492.6M325.02 524.55L459.12 524.55M388.4 556.5L440.45 492.6M333.7 513.9L467.8 513.9M410.75 556.5L462.8 492.6M342.38 503.25L476.48 503.25M433.1 556.5L485.15 492.6M351.05 492.6L485.15 492.6" stroke="#aaaaaa" stroke-width="0.7" fill="none"/>
<path d="M299 451.86L299 556.5L433.1 556.5L485.15 492.6M299 555.5L299 557.1M432.2 556.5L434 556.5M297.2 556.5L300.8 556.5M321.35 555.5L321.35 557.1M440.88 545.85L442.68 545.85M297.2 539.06L300.8 539.06M343.7 555.5L343.7 557.1M449.55 535.2L451.35 535.2M297.2 521.62L300.8 521.62M366.05 555.5L366.05 557.1M458.23 524.55L460.02 524.55M297.2 504.18L300.8 504.18M388.4 555.5L388.4 557.1M466.9 513.9L468.7 513.9M297.2 486.74L300.8 486.74M410.75 555.5L410.75 557.1M475.58 503.25L477.38 503.25M297.2 469.3L300.8 469.3M433.1 555.5L433.1 557.1M484.25 492.6L486.05 492.6M297.2 451.86L300.8 451.86" stroke="#000" stroke-width="0.95" fill="none"/>
<path d="M351.05 492.6L351.05 488.24M395.75 492.6L395.75 485.8M440.45 492.6L440.45 490.77M485.15 492.6L485.15 486.76M333.7 513.9L333.7 503.52M378.4 513.9L378.4 497.33M423.1 513.9L423.1 498.29M467.8 513.9L467.8 512.24M316.35 535.2L316.35 506.08M361.05 535.2L361.05 475.47M405.75 535.2L405.75 525.78M450.45 535.2L450.45 531.54M299 556.5L299 543.07M343.7 556.5L343.7 547.52M388.4 556.5L388.4 553.97M433.1 556.5L433.1 555.28" stroke="#f00" stroke-width="1.6" stroke-linecap="round" fill="none"/>
<g fill="#f00"><circle cx="351.05" cy="488.24" r="2.6"/><circle cx="395.75" cy="485.8" r="2.6"/><circle cx="440.45" cy="490.77" r="2.6"/><circle cx="485.15" cy="486.76" r="2.6"/><circle cx="333.7" cy="503.52" r="2.6"/><circle cx="378.4" cy="497.33" r="2.6"/><circle cx="423.1" cy="498.29" r="2.6"/><circle cx="467.8" cy="512.24" r="2.6"/><circle cx="316.35" cy="506.08" r="2.6"/><circle cx="361.05" cy="475.47" r="2.6"/><circle cx="405.75" cy="525.78" r="2.6"/><circle cx="450.45" cy="531.54" r="2.6"/><circle cx="299" cy="543.07" r="2.6"/><circle cx="343.7" cy="547.52" r="2.6"/><circle cx="388.4" cy="553.97" r="2.6"/><circle cx="433.1" cy="555.28" r="2.6"/></g>
<text class="t" x="299" y="565.85" text-anchor="middle">0.0</text>
<text class="t" x="442.3" y="558">0.0</text>
<text class="t" transform="translate(293.4 556.5) rotate(-90)" text-anchor="middle">0</text>
<text class="t" x="321.35" y="565.85" text-anchor="middle">0.5</text>
<text class="t" x="450.98" y="547.35">0.5</text>
<text class="t" transform="translate(293.4 539.06) rotate(-90)" text-anchor="middle">2</text>
<text class="t" x="343.7" y="565.85" text-anchor="middle">1.0</text>
<text class="t" x="459.65" y="536.7">1.0</text>
<text class="t" transform="translate(293.4 521.62) rotate(-90)" text-anchor="middle">4</text>
<text class="t" x="366.05" y="565.85" text-anchor="middle">1.5</text>
<text class="t" x="468.32" y="526.05">1.5</text>
<text class="t" transform="translate(293.4 504.18) rotate(-90)" text-anchor="middle">6</text>
<text class="t" x="388.4" y="565.85" text-anchor="middle">2.0</text>
<text class="t" x="477" y="515.4">2.0</text>
<text class="t" transform="translate(293.4 486.74) rotate(-90)" text-anchor="middle">8</text>
<text class="t" x="410.75" y="565.85" text-anchor="middle">2.5</text>
<text class="t" x="485.68" y="504.75">2.5</text>
<text class="t" transform="translate(293.4 469.3) rotate(-90)" text-anchor="middle">10</text>
<text class="t" x="433.1" y="565.85" text-anchor="middle">3.0</text>
<text class="t" x="494.35" y="494.1">3.0</text>
<text class="t" transform="translate(293.4 451.86) rotate(-90)" text-anchor="middle">12</text>
<text class="l" x="366.9" y="583.8" text-anchor="middle">x1</text>
<text class="l" transform="translate(515.1 490.7) rotate(-90)" text-anchor="middle">x2</text>
<text class="l" transform="translate(281.6 501.8) rotate(-90)" text-anchor="middle">PMF</text>
<rect x="376.25" y="409.4" width="39.75" height="28.2" fill="#fff" stroke="#333" stroke-width="0.75"/>
<circle cx="383.35" cy="418.9" r="1.8" fill="#00f"/><circle cx="383.35" cy="428.3" r="1.8" fill="#f00"/>
<text class="g" x="390.85" y="421.7">Data</text><text class="g" x="390.85" y="431">BDsIR</text>
</g>
<g>
<path d="M662.85 492.6L662.85 483.88M752.25 492.6L752.25 475.16M645.5 513.9L645.5 461.58M734.9 513.9L734.9 505.18M583.45 535.2L583.45 491.6M628.15 535.2L628.15 465.44M566.1 556.5L566.1 547.78M610.8 556.5L610.8 547.78M700.2 556.5L700.2 547.78" stroke="#00f" stroke-width="2.9" stroke-linecap="round" fill="none"/>
<g fill="#00f"><circle cx="618.15" cy="492.6" r="3.1"/><circle cx="662.85" cy="483.88" r="3.1"/><circle cx="707.55" cy="492.6" r="3.1"/><circle cx="752.25" cy="475.16" r="3.1"/><circle cx="600.8" cy="513.9" r="3.1"/><circle cx="645.5" cy="461.58" r="3.1"/><circle cx="690.2" cy="513.9" r="3.1"/><circle cx="734.9" cy="505.18" r="3.1"/><circle cx="583.45" cy="491.6" r="3.1"/><circle cx="628.15" cy="465.44" r="3.1"/><circle cx="672.85" cy="535.2" r="3.1"/><circle cx="717.55" cy="535.2" r="3.1"/><circle cx="566.1" cy="547.78" r="3.1"/><circle cx="610.8" cy="547.78" r="3.1"/><circle cx="655.5" cy="556.5" r="3.1"/><circle cx="700.2" cy="547.78" r="3.1"/></g>
<path d="M566.1 556.5L618.15 492.6M566.1 556.5L700.2 556.5M588.45 556.5L640.5 492.6M574.77 545.85L708.88 545.85M610.8 556.5L662.85 492.6M583.45 535.2L717.55 535.2M633.15 556.5L685.2 492.6M592.12 524.55L726.23 524.55M655.5 556.5L707.55 492.6M600.8 513.9L734.9 513.9M677.85 556.5L729.9 492.6M609.48 503.25L743.58 503.25M700.2 556.5L752.25 492.6M618.15 492.6L752.25 492.6" stroke="#aaaaaa" stroke-width="0.7" fill="none"/>
<path d="M566.1 451.86L566.1 556.5L700.2 556.5L752.25 492.6M566.1 555.5L566.1 557.1M699.3 556.5L701.1 556.5M564.3 556.5L567.9 556.5M588.45 555.5L588.45 557.1M707.98 545.85L709.77 545.85M564.3 539.06L567.9 539.06M610.8 555.5L610.8 557.1M716.65 535.2L718.45 535.2M564.3 521.62L567.9 521.62M633.15 555.5L633.15 557.1M725.33 524.55L727.12 524.55M564.3 504.18L567.9 504.18M655.5 555.5L655.5 557.1M734 513.9L735.8 513.9M564.3 486.74L567.9 486.74M677.85 555.5L677.85 557.1M742.68 503.25L744.48 503.25M564.3 469.3L567.9 469.3M700.2 555.5L700.2 557.1M751.35 492.6L753.15 492.6M564.3 451.86L567.9 451.86" stroke="#000" stroke-width="0.95" fill="none"/>
<path d="M618.15 492.6L618.15 489.02M662.85 492.6L662.85 485.8M707.55 492.6L707.55 490.77M752.25 492.6L752.25 491.99M600.8 513.9L600.8 500.82M645.5 513.9L645.5 488.09M690.2 513.9L690.2 493.06M734.9 513.9L734.9 512.24M583.45 535.2L583.45 503.37M628.15 535.2L628.15 462.21M672.85 535.2L672.85 521.34M717.55 535.2L717.55 531.54M566.1 556.5L566.1 547M610.8 556.5L610.8 547.52M655.5 556.5L655.5 553.97M700.2 556.5L700.2 555.54" stroke="#f00" stroke-width="1.6" stroke-linecap="round" fill="none"/>
<g fill="#f00"><circle cx="618.15" cy="489.02" r="2.6"/><circle cx="662.85" cy="485.8" r="2.6"/><circle cx="707.55" cy="490.77" r="2.6"/><circle cx="752.25" cy="491.99" r="2.6"/><circle cx="600.8" cy="500.82" r="2.6"/><circle cx="645.5" cy="488.09" r="2.6"/><circle cx="690.2" cy="493.06" r="2.6"/><circle cx="734.9" cy="512.24" r="2.6"/><circle cx="583.45" cy="503.37" r="2.6"/><circle cx="628.15" cy="462.21" r="2.6"/><circle cx="672.85" cy="521.34" r="2.6"/><circle cx="717.55" cy="531.54" r="2.6"/><circle cx="566.1" cy="547" r="2.6"/><circle cx="610.8" cy="547.52" r="2.6"/><circle cx="655.5" cy="553.97" r="2.6"/><circle cx="700.2" cy="555.54" r="2.6"/></g>
<text class="t" x="566.1" y="565.85" text-anchor="middle">0.0</text>
<text class="t" x="709.4" y="558">0.0</text>
<text class="t" transform="translate(560.5 556.5) rotate(-90)" text-anchor="middle">0</text>
<text class="t" x="588.45" y="565.85" text-anchor="middle">0.5</text>
<text class="t" x="718.08" y="547.35">0.5</text>
<text class="t" transform="translate(560.5 539.06) rotate(-90)" text-anchor="middle">2</text>
<text class="t" x="610.8" y="565.85" text-anchor="middle">1.0</text>
<text class="t" x="726.75" y="536.7">1.0</text>
<text class="t" transform="translate(560.5 521.62) rotate(-90)" text-anchor="middle">4</text>
<text class="t" x="633.15" y="565.85" text-anchor="middle">1.5</text>
<text class="t" x="735.43" y="526.05">1.5</text>
<text class="t" transform="translate(560.5 504.18) rotate(-90)" text-anchor="middle">6</text>
<text class="t" x="655.5" y="565.85" text-anchor="middle">2.0</text>
<text class="t" x="744.1" y="515.4">2.0</text>
<text class="t" transform="translate(560.5 486.74) rotate(-90)" text-anchor="middle">8</text>
<text class="t" x="677.85" y="565.85" text-anchor="middle">2.5</text>
<text class="t" x="752.78" y="504.75">2.5</text>
<text class="t" transform="translate(560.5 469.3) rotate(-90)" text-anchor="middle">10</text>
<text class="t" x="700.2" y="565.85" text-anchor="middle">3.0</text>
<text class="t" x="761.45" y="494.1">3.0</text>
<text class="t" transform="translate(560.5 451.86) rotate(-90)" text-anchor="middle">12</text>
<text class="l" x="634" y="583.8" text-anchor="middle">x1</text>
<text class="l" transform="translate(782.2 490.7) rotate(-90)" text-anchor="middle">x2</text>
<text class="l" transform="translate(550.3 498.85) rotate(-90)" text-anchor="middle">Joint PMF</text>
<rect x="640.4" y="409.4" width="45.6" height="28.2" fill="#fff" stroke="#333" stroke-width="0.75"/>
<circle cx="647.5" cy="418.9" r="1.8" fill="#00f"/><circle cx="647.5" cy="428.3" r="1.8" fill="#f00"/>
<text class="g" x="655" y="421.7">Data</text><text class="g" x="655" y="431">BEDsW</text>
</g>
</svg></body></html>
